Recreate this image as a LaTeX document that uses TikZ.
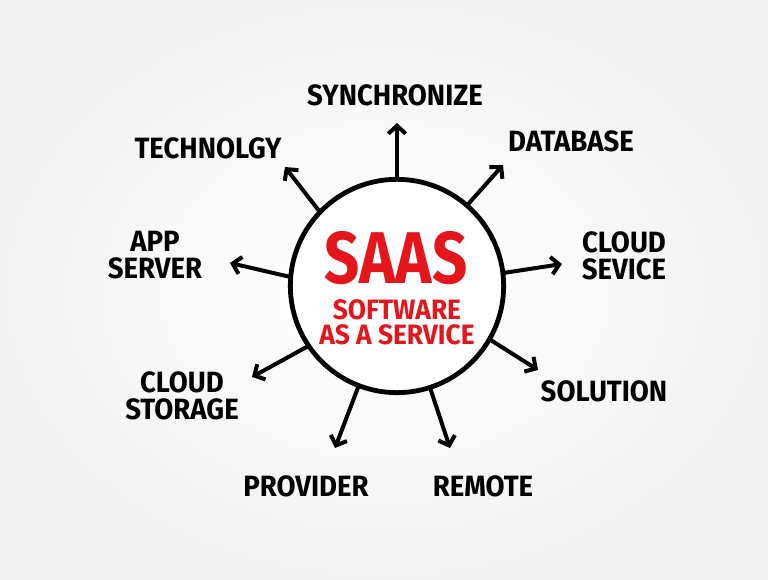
\documentclass[tikz,border=0pt]{standalone}
\usepackage{fontspec}
\newfontfamily\markerfont{Fira Sans}[FakeStretch=0.94]
\newfontfamily\titlefont{Fira Sans}[FakeStretch=0.84]
\usetikzlibrary{arrows.meta}
\definecolor{saasred}{RGB}{228,22,28}

\begin{document}
\begin{tikzpicture}[x=0.75pt, y=-0.75pt]
		\tikzset{
			basefont/.style = {font = \markerfont\bfseries\fontsize{22}{20}\selectfont},
			term/.style = {basefont, align = center, inner sep = 0pt},
			hub/.style = {circle, draw = black, line width = 3.6pt, fill = white, minimum size = 160pt, inner sep = 0pt},
			spoke/.style = {line width = 3pt, line cap = round, line join = round, -{Straight Barb[length = 6pt, width = 13pt, line width = 3pt]}},
			saastitle/.style = {font = \titlefont\bfseries\fontsize{55}{55}\selectfont, text = saasred, inner sep = 0pt},
			saassub/.style = {text = saasred, align = center, inner sep = 0pt, font = \markerfont\bfseries\fontsize{21}{19}\selectfont},
		};

		% background
		\shade[inner color = white, outer color = gray!10] (0,0) rectangle (768,580);
		\useasboundingbox (0,0) rectangle (768,580);

		% centre
		\node[hub] (saas) at (397,286) {};
		\node[saastitle] (saas-title) at (396,258) {SAAS};
		\node[saassub] (saas-sub) at (397,322) {SOFTWARE\\AS A SERVICE};

		% terms
		\node[term] (sync) at (395,95) {SYNCHRONIZE};
		\node[term] (tech) at (208,148) {TECHNOLGY};
		\node[term] (database) at (571,141) {DATABASE};
		\node[term] (appserver) at (155,255) {APP\\SERVER};
		\node[term] (cloudservice) at (624,256) {CLOUD\\SEVICE};
		\node[term] (cloudstorage) at (182,396) {CLOUD\\STORAGE};
		\node[term] (solution) at (604,391) {SOLUTION};
		\node[term] (provider) at (306,486) {PROVIDER};
		\node[term] (remote) at (483,486) {REMOTE};

		% arrow tips
		\coordinate (sync-tip) at (397,123);
		\coordinate (tech-tip) at (285,167);
		\coordinate (database-tip) at (503,165);
		\coordinate (appserver-tip) at (230,263);
		\coordinate (cloudservice-tip) at (562,264);
		\coordinate (cloudstorage-tip) at (252,377);
		\coordinate (solution-tip) at (538,370);
		\coordinate (provider-tip) at (335,448);
		\coordinate (remote-tip) at (450,448);

		\draw[spoke] (saas.90) -- (sync-tip);
		\draw[spoke] (saas.136) -- (tech-tip);
		\draw[spoke] (saas.49) -- (database-tip);
		\draw[spoke] (saas.175) -- (appserver-tip);
		\draw[spoke] (saas.7) -- (cloudservice-tip);
		\draw[spoke] (saas.214) -- (cloudstorage-tip);
		\draw[spoke] (saas.330) -- (solution-tip);
		\draw[spoke] (saas.249) -- (provider-tip);
		\draw[spoke] (saas.288) -- (remote-tip);
	\end{tikzpicture}
\end{document}
